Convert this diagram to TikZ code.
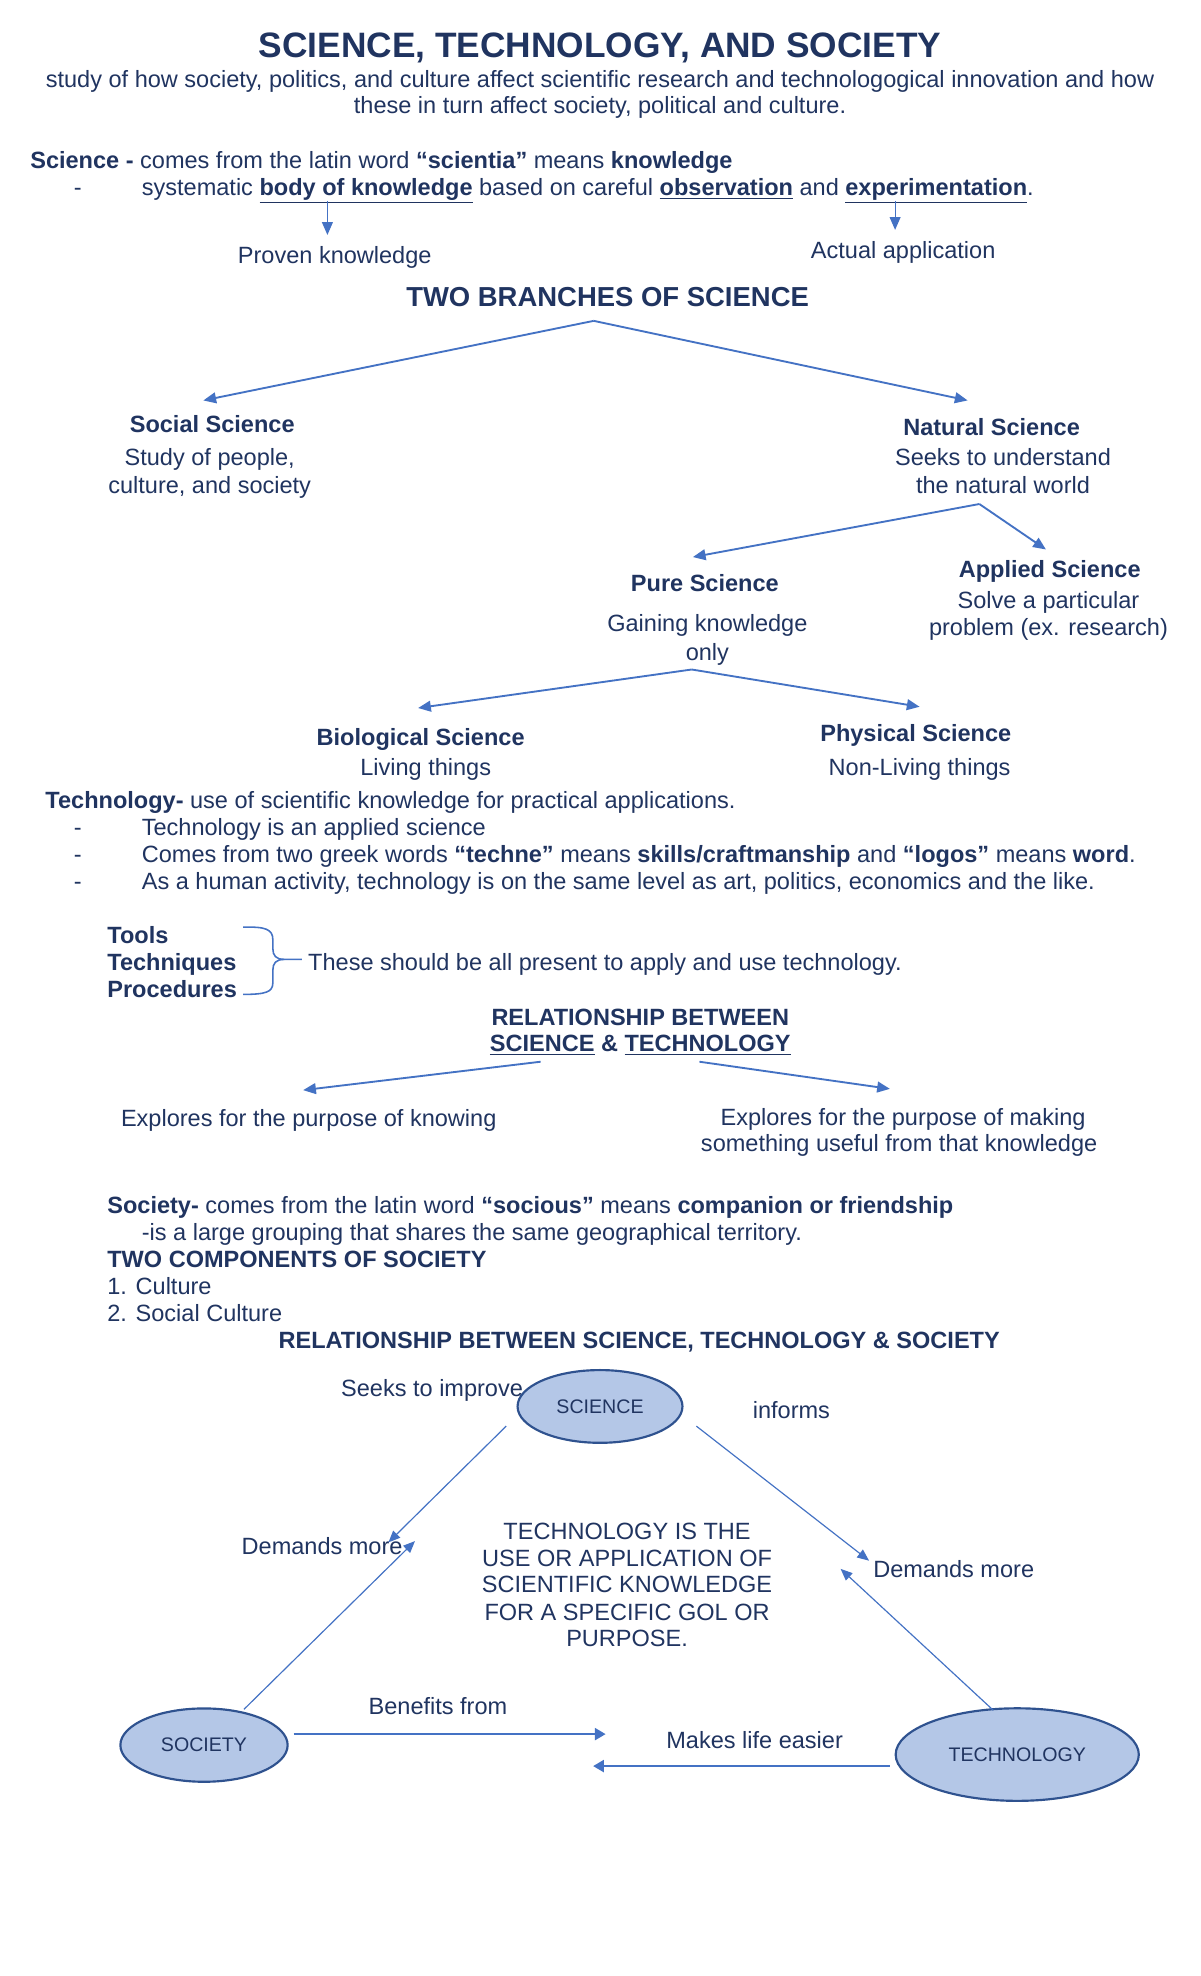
\documentclass[tikz,border=0pt]{standalone}
\usepackage{fontspec}
\setmainfont{Liberation Sans}
\usetikzlibrary{arrows.meta,shapes.geometric}
\definecolor{navy}{RGB}{32,52,96}
\definecolor{arrowblue}{RGB}{68,114,196}
\definecolor{ellfill}{RGB}{180,199,231}
\definecolor{ellborder}{RGB}{47,82,143}
\begin{document}
\begin{tikzpicture}[x=0.6442pt,y=-0.6442pt,
  every node/.style={inner sep=0pt,outer sep=0pt,text=navy,font=\fontsize{12}{14}\selectfont},
  lft/.style={anchor=base west},
  ctr/.style={anchor=base},
  bigtitle/.style={anchor=base,font=\fontsize{18}{20}\selectfont\bfseries},
  midtitle/.style={anchor=base,font=\fontsize{14}{16}\selectfont\bfseries},
  bld/.style={font=\fontsize{12}{14}\selectfont\bfseries},
  treearrow/.style={draw=arrowblue,line width=0.95pt,-{Triangle[length=6.5pt,width=5.5pt]}},
  thinarrow/.style={draw=arrowblue,line width=0.6pt,-{Triangle[length=6pt,width=5pt]}},
  thickarrow/.style={draw=arrowblue,line width=1.4pt,-{Triangle[length=5.5pt,width=6pt]}},
  oval/.style={ellipse,draw=ellborder,fill=ellfill,line width=1.1pt,font=\fontsize{10}{12}\selectfont}
]
\fill[white] (0,0) rectangle (950,1564.3);
\useasboundingbox (0,0) rectangle (950,1564.3);

% title
\node[bigtitle] (title) at (475,45.5) {SCIENCE, TECHNOLOGY, AND SOCIETY};
\node[ctr] (sub1) at (475,69) {study of how society, politics, and culture affect scientific research and technologogical innovation and how};
\node[ctr] (sub2) at (475,89.8) {these in turn affect society, political and culture.};

% science definition
\node[lft] (scidef) at (24,133) {\textbf{Science -} comes from the latin word \textbf{“scientia”} means \textbf{knowledge}};
\node[lft] (dash0) at (58.5,154.4) {-};
\node[lft] (sys) at (112.3,154.4) {systematic \underline{\textbf{body of knowledge}} based on careful \underline{\textbf{observation}} and \underline{\textbf{experimentation}}.};
\coordinate (pk0) at (259.2,159);
\coordinate (pk1) at (259.2,186);
\coordinate (aa0) at (708.6,159);
\coordinate (aa1) at (708.6,182);
\draw[treearrow,line width=0.6pt] (pk0) -- (pk1);
\draw[treearrow,line width=0.6pt] (aa0) -- (aa1);
\node[ctr] (proven) at (265,208.5) {Proven knowledge};
\node[ctr] (actual) at (715,204.5) {Actual application};

% two branches
\node[midtitle] (branches) at (481,243) {TWO BRANCHES OF SCIENCE};
\coordinate (ap1) at (470,254);
\coordinate (soc1) at (161,317);
\coordinate (nat1) at (766,317);
\draw[treearrow] (ap1) -- (soc1);
\draw[treearrow] (ap1) -- (nat1);

\node[ctr,bld] (socsci) at (168,342.5) {Social Science};
\node[ctr] (socsci1) at (166,368.7) {Study of people,};
\node[ctr] (socsci2) at (166,390.6) {culture, and society};

\node[ctr,bld] (natsci) at (785,344.4) {Natural Science};
\node[ctr] (natsci1) at (794,368.7) {Seeks to understand};
\node[ctr] (natsci2) at (794,390.3) {the natural world};

\coordinate (ap2) at (775.3,399);
\coordinate (pure1) at (548.5,441);
\coordinate (appl1) at (828,435);
\draw[treearrow] (ap2) -- (pure1);
\draw[treearrow] (ap2) -- (appl1);

\node[ctr,bld] (puresci) at (558,468) {Pure Science};
\node[ctr] (puresci1) at (560,500) {Gaining knowledge};
\node[ctr] (puresci2) at (560,522.5) {only};

\node[ctr,bld] (applsci) at (831,457) {Applied Science};
\node[ctr] (applsci1) at (830,481.6) {Solve a particular};
\node[ctr] (applsci2) at (830,502.7) {problem (ex. research)};

\coordinate (ap3) at (547.6,530);
\coordinate (bio1) at (331,560.5);
\coordinate (phy1) at (728,559.5);
\draw[treearrow] (ap3) -- (bio1);
\draw[treearrow] (ap3) -- (phy1);

\node[ctr,bld] (biosci) at (333,589.8) {Biological Science};
\node[ctr] (biosci1) at (337,613.6) {Living things};
\node[ctr,bld] (physci) at (725,587) {Physical Science};
\node[ctr] (physci1) at (728,613.6) {Non-Living things};

% technology
\node[lft] (techdef) at (36,640) {\textbf{Technology-} use of scientific knowledge for practical applications.};
\node[lft] (dash1) at (58.5,661.8) {-};
\node[lft] (tb1) at (112.3,661.8) {Technology is an applied science};
\node[lft] (dash2) at (58.5,683) {-};
\node[lft] (tb2) at (112.3,683) {Comes from two greek words \textbf{“techne”} means \textbf{skills/craftmanship} and \textbf{“logos”} means \textbf{word}.};
\node[lft] (dash3) at (58.5,704) {-};
\node[lft] (tb3) at (112.3,704) {As a human activity, technology is on the same level as art, politics, economics and the like.};

\node[lft,bld] (tools) at (85,746.8) {Tools};
\node[lft,bld] (techniques) at (85,768.5) {Techniques};
\node[lft,bld] (procedures) at (85,789.6) {Procedures};
\coordinate (brtop) at (192.5,734);
\coordinate (brtip) at (239,759.5);
\coordinate (brbot) at (192.5,787.2);
\draw[arrowblue,line width=0.8pt] (brtop) .. controls (210,733.5) and (216,735.5) .. (216,744) -- (216,751) .. controls (216,756.5) and (218.5,759.5) .. (225,759.5) -- (brtip);
\draw[arrowblue,line width=0.8pt] (225,759.5) .. controls (218.5,759.5) and (216,762.5) .. (216,768) -- (216,778) .. controls (216,785.5) and (210,787.2) .. (brbot);
\node[lft] (present) at (244,768.5) {These should be all present to apply and use technology.};

% relationship science & technology
\node[ctr,bld] (rel1) at (506.9,811.5) {RELATIONSHIP BETWEEN};
\node[ctr,bld] (rel2) at (506.9,832.6) {\underline{SCIENCE} \& \underline{TECHNOLOGY}};
\coordinate (rl0) at (428,840.5);
\coordinate (rl1) at (240,863);
\coordinate (rr0) at (553.7,840.5);
\coordinate (rr1) at (704.5,862);
\draw[treearrow] (rl0) -- (rl1);
\draw[treearrow] (rr0) -- (rr1);
\node[ctr] (knowing) at (244.4,892) {Explores for the purpose of knowing};
\node[ctr] (making1) at (714.9,890.6) {Explores for the purpose of making};
\node[ctr] (making2) at (711.8,911.8) {something useful from that knowledge};

% society
\node[lft] (socdef) at (85,960.6) {\textbf{Society-} comes from the latin word \textbf{“socious”} means \textbf{companion or friendship}};
\node[lft] (socdef2) at (112.3,982.2) {-is a large grouping that shares the same geographical territory.};
\node[lft,bld] (twocomp) at (85,1003.3) {TWO COMPONENTS OF SOCIETY};
\node[lft] (comp1) at (85,1024.7) {1. Culture};
\node[lft] (comp2) at (85,1046.3) {2. Social Culture};
\node[ctr,bld] (rel3) at (506,1067.4) {RELATIONSHIP BETWEEN SCIENCE, TECHNOLOGY \& SOCIETY};

% triangle
\node[oval,minimum width=84.1pt,minimum height=37.1pt] (science) at (475,1113.4) {SCIENCE};
\node[oval,minimum width=85.3pt,minimum height=37.4pt] (society) at (161.5,1381.5) {SOCIETY};
\node[oval,minimum width=124pt,minimum height=47.2pt] (technology) at (805.3,1389) {TECHNOLOGY};

\node[anchor=base east] (seeks) at (414,1105.2) {Seeks to improve};
\node[ctr] (informs) at (626.5,1122.9) {informs};
\node[ctr] (demandsL) at (255,1230.3) {Demands more};
\node[ctr] (demandsR) at (755,1248.7) {Demands more};

\coordinate (sl0) at (400.7,1129);
\coordinate (sl1) at (307.5,1221);
\coordinate (ls0) at (193.1,1353.2);
\coordinate (ls1) at (328.5,1220);
\coordinate (sr0) at (551.3,1129);
\coordinate (sr1) at (688,1235.5);
\coordinate (rs0) at (786.2,1353.8);
\coordinate (rs1) at (665.5,1242);
\draw[thinarrow] (sl0) -- (sl1);
\draw[thinarrow] (ls0) -- (ls1);
\draw[thinarrow] (sr0) -- (sr1);
\draw[thinarrow] (rs0) -- (rs1);

\node[ctr] (mid1) at (496.4,1218.7) {TECHNOLOGY IS THE};
\node[ctr] (mid2) at (496.4,1239.8) {USE OR APPLICATION OF};
\node[ctr] (mid3) at (496.4,1260.9) {SCIENTIFIC KNOWLEDGE};
\node[ctr] (mid4) at (496.4,1283) {FOR A SPECIFIC GOL OR};
\node[ctr] (mid5) at (496.4,1303.6) {PURPOSE.};

\node[ctr] (benefits) at (346.7,1357) {Benefits from};
\node[ctr] (easier) at (597.4,1384.1) {Makes life easier};
\coordinate (bf0) at (232.5,1372.8);
\coordinate (bf1) at (479.5,1372.8);
\coordinate (me0) at (704.3,1398.1);
\coordinate (me1) at (469.5,1398.1);
\draw[thickarrow] (bf0) -- (bf1);
\draw[thickarrow] (me0) -- (me1);
\end{tikzpicture}
\end{document}
